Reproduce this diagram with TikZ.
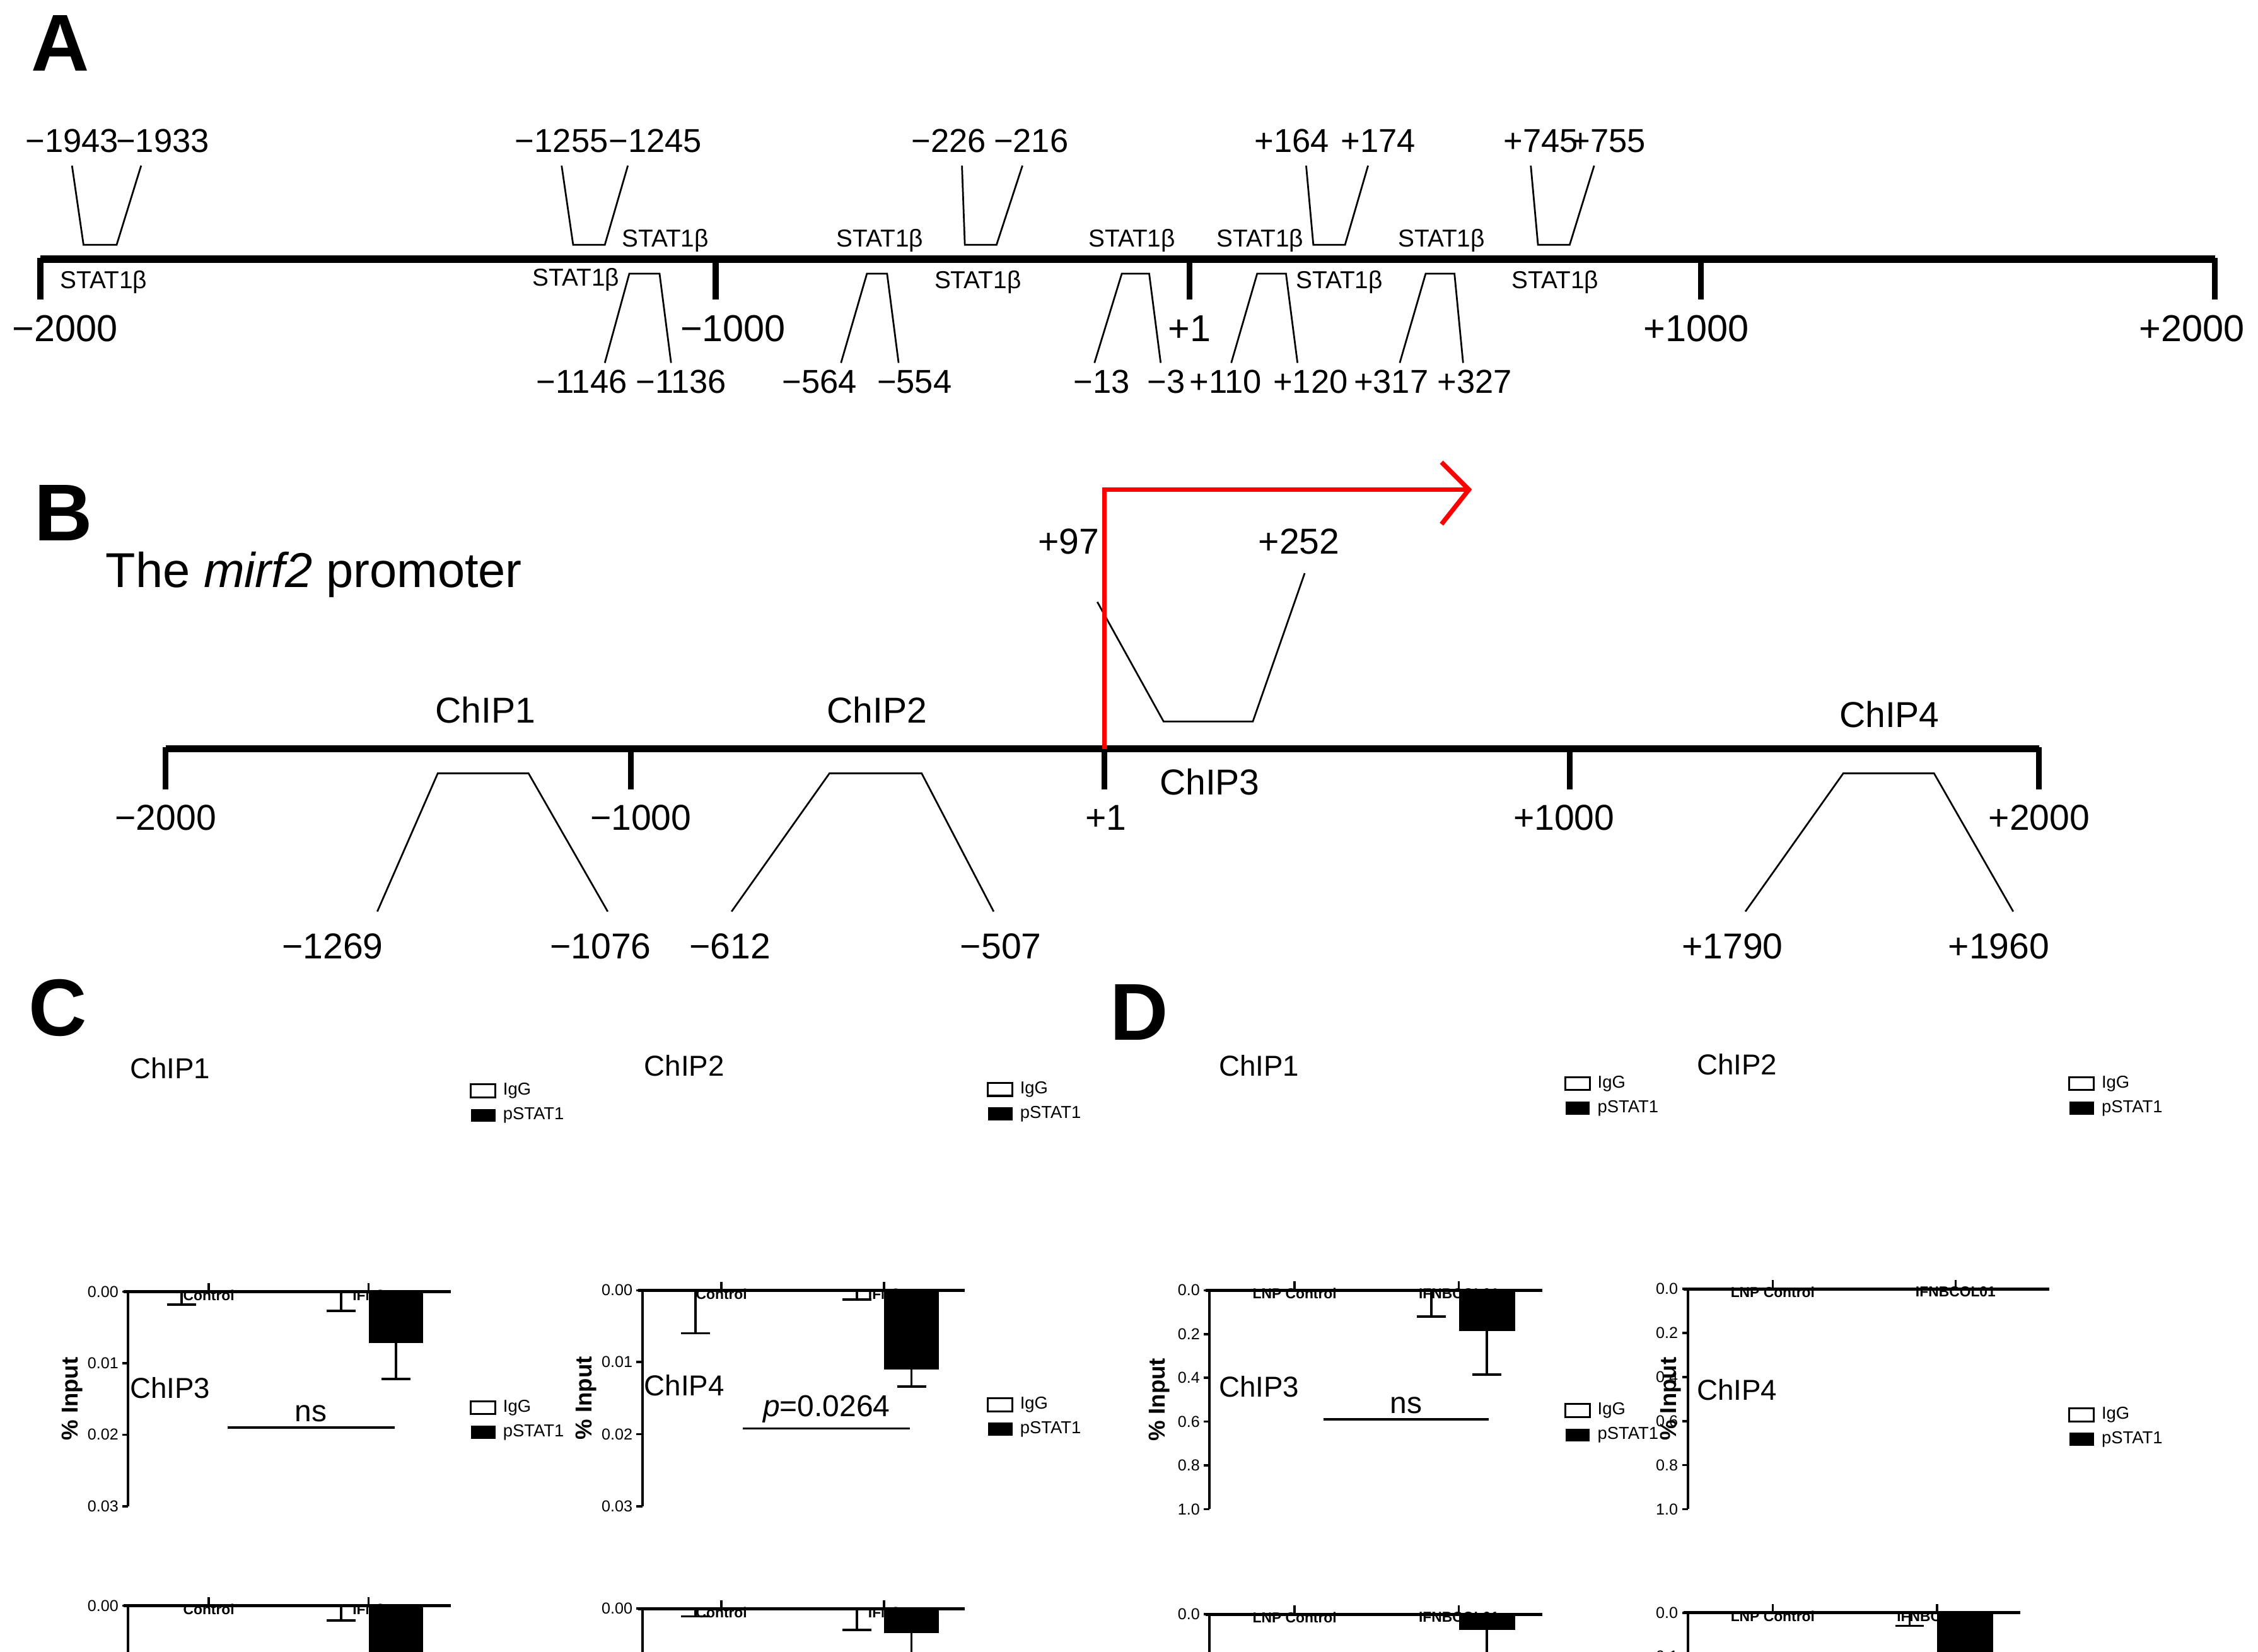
\documentclass[tikz,border=0pt]{standalone}
\usepackage{fontspec}
\setmainfont{Liberation Sans}
\begin{document}
\begin{tikzpicture}[x=0.5pt,y=-0.5pt,line join=miter,
  thick line/.style={line width=2.5pt},
  thin line/.style={line width=0.6pt},
  poslab/.style={font=\fontsize{11.5}{12}\selectfont,inner sep=0pt},
  axlab/.style={font=\fontsize{13}{14}\selectfont,inner sep=0pt},
  statlab/.style={font=\fontsize{8.5}{9}\selectfont,inner sep=0pt},
  bpos/.style={font=\fontsize{12.5}{13}\selectfont,inner sep=0pt},
  panelletter/.style={font=\fontsize{28}{30}\selectfont\bfseries,inner sep=0pt},
  ticklab/.style={font=\fontsize{5.5}{6}\selectfont,inner sep=1pt},
  xlab/.style={font=\fontsize{5}{6}\selectfont\bfseries,inner sep=0pt},
  ylab/.style={font=\fontsize{8}{9}\selectfont\bfseries,inner sep=0pt,rotate=90},
  ctitle/.style={font=\fontsize{10}{11}\selectfont,inner sep=0pt,anchor=west},
  leglab/.style={font=\fontsize{6}{7}\selectfont,inner sep=0pt,anchor=west},
  siglab/.style={font=\fontsize{10.5}{11}\selectfont,inner sep=1.5pt,above}]
\useasboundingbox (0,0) rectangle (1568,1147);
% ---------------- Panel A
\node[panelletter] (LA) at (42,30) {A};
\draw[thick line] (28,180) -- (1538,180);
\foreach \x/\lx/\l [count=\i] in {28/45/{−2000},497/509/{−1000},826/826/{+1},1181/1178/{+1000},1538/1522/{+2000}}{
  \draw[line width=2pt] (\x,179) -- (\x,208);
  \node[axlab] (ta\i) at (\lx,228) {\l};}
% upper trapezoids
\foreach \a/\b/\c/\d/\la/\xa/\lb/\xb [count=\i] in {
  50/58/81/98/{−1943}/50/{−1933}/113,
  390/398/420/436/{−1255}/390/{−1245}/455,
  668/670/692/710/{−226}/659/{−216}/716,
  907/912/934/950/{+164}/897/{+174}/957,
  1063/1068/1090/1107/{+745}/1070/{+755}/1117}{
  \draw[thin line] (\a,115) -- (\b,170) -- (\c,170) -- (\d,115);
  \node[poslab] (ua\i) at (\xa,98) {\la};
  \node[poslab] (ub\i) at (\xb,98) {\lb};}
% lower trapezoids
\foreach \a/\b/\c/\d/\la/\xa/\lb/\xb [count=\i] in {
  420/437/458/466/{−1146}/404/{−1136}/473,
  584/602/616/624/{−564}/569/{−554}/635,
  760/779/798/806/{−13}/765/{−3}/810,
  855/873/893/901/{+110}/851/{+120}/910,
  972/990/1010/1016/{+317}/966/{+327}/1024}{
  \draw[thin line] (\a,252) -- (\b,190) -- (\c,190) -- (\d,252);
  \node[poslab] (la\i) at (\xa,265) {\la};
  \node[poslab] (lb\i) at (\xb,265) {\lb};}
\foreach \x/\y [count=\i] in {72/196,462/167,679/196,930/196,1080/196,400/194,611/167,786/167,875/167,1001/167}
  \node[statlab] (s\i) at (\x,\y) {STAT1β};
% ---------------- Panel B
\node[panelletter] (LB) at (44,356) {B};
\node[font=\fontsize{17}{18}\selectfont,anchor=west,inner sep=0pt] (prom) at (73,399) {The \textit{mirf2} promoter};
\draw[thick line] (115,520) -- (1416,520);
\foreach \x in {115,438,767,1090,1416}
  \draw[line width=2pt] (\x,519) -- (\x,548);
\foreach \x/\l [count=\i] in {115/{−2000},445/{−1000},768/{+1},1086/{+1000},1416/{+2000}}
  \node[bpos] (tb\i) at (\x,568) {\l};
\draw[thin line] (762,418) -- (808,501) -- (870,501) -- (906,398);
\node[bpos] (p97) at (742,376) {+97};
\node[bpos] (p252) at (902,376) {+252};
\node[bpos] (c3) at (840,543) {ChIP3};
\foreach \a/\b/\c/\d/\xl/\ll/\xr/\lr/\tt/\xq/\yq [count=\i] in {
  262/304/367/422/231/{−1269}/417/{−1076}/ChIP1/337/493,
  508/576/640/690/507/{−612}/695/{−507}/ChIP2/609/493,
  1212/1280/1343/1398/1203/{+1790}/1388/{+1960}/ChIP4/1312/496}{
  \draw[thin line] (\a,633) -- (\b,537) -- (\c,537) -- (\d,633);
  \node[bpos] (bl\i) at (\xl,657) {\ll};
  \node[bpos] (br\i) at (\xr,657) {\lr};
  \node[bpos] (bt\i) at (\xq,\yq) {\tt};}
\draw[red,line width=1.6pt] (767,520) -- (767,340) -- (1019,340);
\draw[red,line width=1.6pt] (1001,321) -- (1020,340) -- (1001,364);
% ---------------- Panels C, D
\node[panelletter] (LC) at (40,700) {C};
\node[panelletter] (LD) at (791,703) {D};
\newcommand\chartstart[7]{% x0,y0,height,ymax,ticks,axislen,ylab x offset
  \begin{scope}[shift={(#1,#2)},yscale=#3/#4]
  \draw[line width=0.9pt] (0,0) -- (0,#4);
  \foreach \v/\l in #5 {\draw[line width=0.8pt] (0,\v) -- (-4,\v) node[left,ticklab]{\l};}
  \draw[line width=1.1pt] (-3,0) -- (#6,0);
  \node[ylab] at (#7,#4/2) {\% Input};}
\newcommand\xtick[2]{\draw[line width=0.8pt] (#1,0) -- (#1,-0.04*\ymx) node[below=2pt,xlab]{#2};}
\newcommand\ebar[3]{\draw[line width=0.8pt] (#1,#2) -- (#1,#2+#3) (#1-10,#2+#3) -- (#1+10,#2+#3);}
\newcommand\pbar[4]{\fill (#1,0) rectangle (#1+#4,#2); \ebar{#1+#4/2}{#2}{#3}}
\newcommand\sigbar[4]{\draw[line width=0.8pt] (#1,#3) -- (#2,#3) node[midway,siglab]{#4};}
\newcommand\mylegend[2]{%
  \draw[line width=0.7pt] (#1,#2) rectangle ++(17,9);
  \fill (#1,#2+17) rectangle ++(17,9);
  \node[leglab] at (#1+22,#2+4.5) {IgG};
  \node[leglab] at (#1+22,#2+21.5) {pSTAT1};}
\def\cticks{0/0.00,0.01/0.01,0.02/0.02,0.03/0.03}
\def\dticksA{0/0.0,0.2/0.2,0.4/0.4,0.6/0.6,0.8/0.8,1/1.0}
\def\dticksB{0/0.0,0.1/0.1,0.2/0.2,0.3/0.3,0.4/0.4,0.5/0.5}
% C1
\def\ymx{0.03}
\chartstart{89}{897}{149}{0.03}{\cticks}{224}{-39}
  \xtick{56}{Control}\xtick{167}{IFNβ}
  \ebar{37}{0}{0.0018}\ebar{148}{0}{0.0027}\pbar{167}{0.0072}{0.005}{38}
  \sigbar{69}{185}{0.019}{ns}
\end{scope}
\node[ctitle] (c1) at (90,742) {ChIP1};
\mylegend{327}{753}
% C2
\chartstart{446}{896}{150}{0.03}{\cticks}{224}{-39}
  \xtick{55}{Control}\xtick{168}{IFNβ}
  \ebar{37}{0}{0.006}\ebar{149}{0}{0.0013}\pbar{168}{0.011}{0.0024}{38}
  \sigbar{70}{186}{0.0192}{\textit{p}=0.0264}
\end{scope}
\node[ctitle] (c2) at (447,740) {ChIP2};
\mylegend{686}{752}
% C3
\chartstart{89}{1115}{145}{0.03}{\cticks}{224}{-39}
  \xtick{56}{Control}\xtick{167}{IFNβ}
  \ebar{148}{0}{0.0021}\pbar{167}{0.0148}{0.0008}{38}
  \sigbar{69}{185}{0.0215}{\textit{p}=0.0181}
\end{scope}
\node[ctitle] (c3t) at (90,964) {ChIP3};
\mylegend{327}{973}
% C4
\chartstart{446}{1117}{148}{0.03}{\cticks}{224}{-39}
  \xtick{55}{Control}\xtick{168}{IFNβ}
  \ebar{37}{0}{0.0011}\ebar{149}{0}{0.003}\pbar{168}{0.0035}{0.004}{38}
  \sigbar{70}{186}{0.021}{\textit{p}=0.0459}
\end{scope}
\node[ctitle] (c4) at (447,962) {ChIP4};
\mylegend{686}{971}
% D1
\def\ymx{1}
\chartstart{840}{896}{152}{1}{\dticksA}{231}{-35}
  \xtick{59}{LNP Control}\xtick{173}{IFNBCOL01}
  \ebar{154}{0}{0.12}\pbar{173}{0.185}{0.2}{39}
  \sigbar{79}{194}{0.59}{ns}
\end{scope}
\node[ctitle] (d1) at (846,740) {ChIP1};
\mylegend{1087}{748}
% D2
\chartstart{1172}{895}{153}{1}{\dticksA}{251}{-12}
  \xtick{59}{LNP Control}\xtick{186}{IFNBCOL01}
\end{scope}
\node[ctitle] (d2) at (1178,739) {ChIP2};
\mylegend{1437}{748}
% D3
\def\ymx{0.5}
\chartstart{840}{1121}{157}{0.5}{\dticksB}{231}{-35}
  \xtick{59}{LNP Control}\xtick{173}{IFNBCOL01}
  \pbar{173}{0.035}{0.075}{39}
  \sigbar{75}{190}{0.217}{ns}
\end{scope}
\node[ctitle] (d3) at (846,963) {ChIP3};
\mylegend{1087}{975}
% D4
\chartstart{1172}{1120}{150}{0.5}{\dticksB}{231}{-12}
  \xtick{59}{LNP Control}\xtick{173}{IFNBCOL01}
  \ebar{154}{0}{0.03}\pbar{173}{0.265}{0.078}{39}
  \sigbar{99}{212}{0.42}{\textit{p}=0.0177}
\end{scope}
\node[ctitle] (d4) at (1178,965) {ChIP4};
\mylegend{1437}{978}
\end{tikzpicture}
\end{document}
